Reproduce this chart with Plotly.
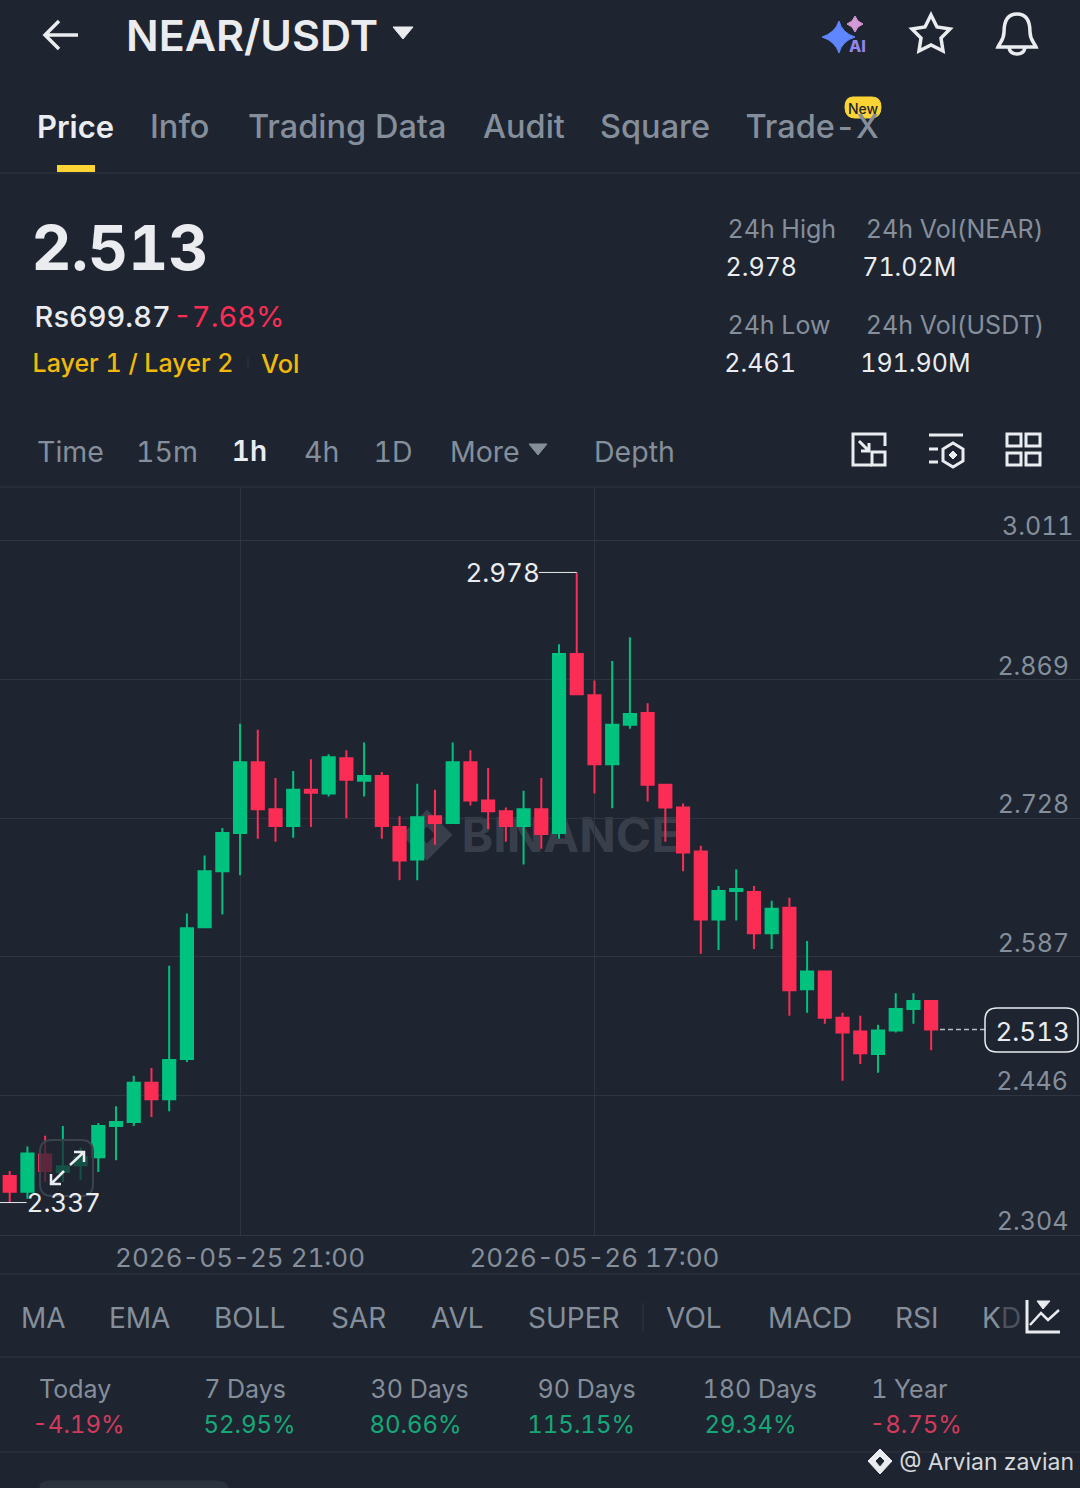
import pandas as pd
import plotly.graph_objects as go

# candles, hourly
start = "2026-05-25 08:00"
opens = [2.364, 2.348, 2.386, 2.368, 2.375, 2.383, 2.415, 2.419, 2.459, 2.442,
         2.483, 2.617, 2.674, 2.713, 2.785, 2.737, 2.720, 2.757, 2.753, 2.789,
         2.766, 2.771, 2.719, 2.686, 2.730, 2.723, 2.785, 2.746, 2.735, 2.720,
         2.737, 2.713, 2.895, 2.853, 2.783, 2.823, 2.835, 2.762, 2.739, 2.694,
         2.625, 2.654, 2.653, 2.611, 2.637, 2.554, 2.572, 2.525, 2.511, 2.488,
         2.512, 2.534, 2.542]
highs = [2.369, 2.394, 2.405, 2.415, 2.393, 2.418, 2.435, 2.466, 2.474, 2.578,
         2.631, 2.690, 2.718, 2.824, 2.818, 2.769, 2.776, 2.788, 2.793, 2.797,
         2.805, 2.775, 2.730, 2.763, 2.757, 2.805, 2.797, 2.779, 2.739, 2.756,
         2.769, 2.905, 2.978, 2.868, 2.888, 2.912, 2.845, 2.762, 2.743, 2.700,
         2.659, 2.676, 2.659, 2.644, 2.647, 2.603, 2.572, 2.530, 2.527, 2.518,
         2.550, 2.550, 2.542]
lows = [2.337, 2.341, 2.358, 2.358, 2.360, 2.368, 2.380, 2.415, 2.424, 2.430,
        2.480, 2.617, 2.630, 2.670, 2.707, 2.704, 2.708, 2.719, 2.750, 2.728,
        2.750, 2.707, 2.665, 2.665, 2.701, 2.722, 2.741, 2.717, 2.704, 2.681,
        2.697, 2.707, 2.853, 2.753, 2.738, 2.819, 2.745, 2.704, 2.674, 2.590,
        2.594, 2.624, 2.595, 2.595, 2.527, 2.530, 2.519, 2.461, 2.478, 2.469,
        2.510, 2.519, 2.492]
closes = [2.348, 2.387, 2.369, 2.374, 2.383, 2.415, 2.419, 2.459, 2.442, 2.482,
          2.616, 2.674, 2.713, 2.785, 2.737, 2.720, 2.757, 2.754, 2.790, 2.767,
          2.771, 2.720, 2.685, 2.729, 2.723, 2.785, 2.746, 2.735, 2.720, 2.737,
          2.712, 2.895, 2.854, 2.783, 2.823, 2.834, 2.762, 2.739, 2.693, 2.625,
          2.654, 2.656, 2.611, 2.636, 2.553, 2.572, 2.525, 2.510, 2.489, 2.512,
          2.534, 2.542, 2.513]
times = pd.date_range(start, periods=len(opens), freq="h")

price_ticks = [3.011, 2.869, 2.728, 2.587, 2.446, 2.304]
price_tick_labels = ["3.011", "2.869", "2.728", "2.587", "2.446", "2.304"]
date_ticks = ["2026-05-25 21:00", "2026-05-26 17:00"]
last_price = 2.513

tabs = ["Price", "Info", "Trading Data", "Audit", "Square", "Trade-X"]
tabs_x = [38, 151, 249, 484, 601, 750]
intervals = ["Time", "15m", "1h", "4h", "1D", "More", "Depth"]
intervals_x = [38, 141, 236, 305, 378, 451, 595]
indicators = ["MA", "EMA", "BOLL", "SAR", "AVL", "SUPER", "VOL", "MACD", "RSI"]
indicators_x = [22, 110, 215, 332, 432, 529, 667, 769, 896]
periods = ["Today", "7 Days", "30 Days", "90 Days", "180 Days", "1 Year"]
period_changes = ["-4.19%", "52.95%", "80.66%", "115.15%", "29.34%", "-8.75%"]
periods_x = [40, 206, 372, 539, 707, 875]

BG = "#1e2530"
GRID = "#2e3540"
LINE = "#303945"
GRAY = "#858e9b"
WHITE = "#eaecef"
GREEN = "#00c27f"
RED = "#fb2d55"
YELLOW = "#f0b90b"
FONT = "Inter"

fig = go.Figure()

# the x/y axes are just screen pixels, they sit under the chart so the watermark is behind the candles
fig.add_trace(go.Scatter(x=[571], y=[840], mode="text", text=["BINANCE"], hoverinfo="skip", showlegend=False,
                         textfont=dict(family=FONT, size=48, color="#383f4a", weight=700),
                         textposition="middle center", xaxis="x", yaxis="y"))

fig.add_trace(go.Candlestick(x=times, open=opens, high=highs, low=lows, close=closes,
                             increasing=dict(line=dict(color=GREEN, width=2), fillcolor=GREEN),
                             decreasing=dict(line=dict(color=RED, width=2), fillcolor=RED),
                             whiskerwidth=0, showlegend=False, xaxis="x2", yaxis="y2"))

shapes = []
annots = []


def txt(x, y, s, size=26, color=GRAY, anchor="left", weight=400):
    # left anchored annotations come out about 3px to the right of x
    if anchor == "left":
        x = x - 3
    annots.append(dict(xref="x", yref="y", x=x, y=y, text=s, showarrow=False, xanchor=anchor, yanchor="middle",
                       font=dict(family=FONT, size=size, color=color, weight=weight)))


def hline(y, x0=0, x1=1080, color=LINE, width=1):
    shapes.append(dict(type="line", xref="x", yref="y", x0=x0, x1=x1, y0=y, y1=y, line=dict(color=color, width=width)))


def path(d, color=WHITE, width=3, fill=None, layer="above"):
    shapes.append(dict(type="path", xref="x", yref="y", path=d, layer=layer, fillcolor=fill or "rgba(0,0,0,0)",
                       line=dict(color=color, width=width)))


# header
path("M78 35 L45 35 M59 21 L45 35 L59 49", width=3.5)
txt(127, 35, "NEAR/USDT", size=43, color=WHITE, weight=600)
path("M393 27 L413 27 L403 39 Z", fill=WHITE, width=1)
path("M839 21 Q842 33 855 37 Q842 41 839 53 Q835 41 822 37 Q835 33 839 21 Z", color="#5f86ff", fill="#5f86ff", width=1)
path("M855 16 Q857 22 863 24 Q857 26 855 32 Q853 26 847 24 Q853 22 855 16 Z", color="#d79ad8", fill="#d79ad8", width=1)
txt(857, 46, "AI", size=16, color="#8f86ee", anchor="center", weight=800)
path("M931 15 L937 27 L950 29 L941 38 L943 51 L931 45 L919 51 L921 38 L912 29 L925 27 Z", width=3.5)
path("M1017 14 C1006 14 1004 24 1004 32 C1004 40 1000 42 998 47 L1036 47 C1034 42 1030 40 1030 32 "
     "C1030 24 1028 14 1017 14 Z M1009 48 C1011 56 1023 56 1025 48", width=3.5)

# tabs
for name, x in zip(tabs, tabs_x):
    if name == "Price":
        txt(x, 126, name, size=31, color=WHITE, weight=600)
    else:
        txt(x, 126, name, size=32.5, color=GRAY, weight=500)
shapes.append(dict(type="rect", xref="x", yref="y", x0=57, x1=95, y0=165, y1=172, fillcolor="#fcd535", line_width=0))
path("M853 97 L872 97 Q881 97 881 107 Q881 118 871 118 L855 118 Q845 118 845 107 Q845 97 853 97 Z",
     color="#fcd535", fill="#fcd535", width=1)
txt(863, 108, "New", size=14, color="#1e2530", anchor="center", weight=500)
hline(173)

# price block
txt(38, 247, "2.513", size=62, color=WHITE, weight=700)
txt(38, 316, "Rs699.87", size=29, color=WHITE, weight=500)
txt(181, 316, "-7.68%", size=29, color=RED)
txt(37, 363, "Layer 1 / Layer 2", size=25, color=YELLOW, weight=500)
shapes.append(dict(type="line", xref="x", yref="y", x0=248, x1=248, y0=358, y1=368, line=dict(color=LINE, width=1)))
txt(262, 363, "Vol", size=25.5, color=YELLOW, weight=500)
txt(729, 229, "24h High", size=25)
txt(729, 267, "2.978", size=25, color=WHITE)
txt(868, 229, "24h Vol(NEAR)", size=25)
txt(868, 267, "71.02M", size=25, color=WHITE)
txt(729, 325, "24h Low", size=25)
txt(729, 363, "2.461", size=25, color=WHITE)
txt(868, 325, "24h Vol(USDT)", size=25)
txt(868, 363, "191.90M", size=25, color=WHITE)

# interval row
for name, x in zip(intervals, intervals_x):
    if name == "1h":
        txt(x, 451, name, size=28, color=WHITE, weight=600)
    else:
        txt(x, 451, name, size=28.5)
path("M529 444 L547 444 L538 455 Z", color=GRAY, fill=GRAY, width=1)
path("M866 434 L885 434 L885 446 M872 465 L853 465 L853 434 L866 434", width=3)
path("M859 441 L869 451 M869 443 L869 451 L861 451", width=3)
shapes.append(dict(type="rect", xref="x", yref="y", x0=872, x1=885, y0=452, y1=465, line=dict(color=WHITE, width=3)))
hline(435, 929, 963, color=WHITE, width=3)
hline(449, 929, 938, color=WHITE, width=3)
hline(462, 929, 938, color=WHITE, width=3)
path("M953 443 L963 449 L963 461 L953 467 L943 461 L943 449 Z", width=3)
path("M953 451 L957 455 L953 459 L949 455 Z", fill=WHITE, width=1)
for x0, y0 in [(1007, 434), (1026, 434), (1007, 453), (1026, 453)]:
    shapes.append(dict(type="rect", xref="x", yref="y", x0=x0, x1=x0 + 14, y0=y0, y1=y0 + 12,
                       line=dict(color=WHITE, width=3)))
hline(487)

# price labels sit on top of their gridlines
for val, lab in zip(price_ticks, price_tick_labels):
    annots.append(dict(xref="paper", yref="y2", x=1069 / 1080, y=val, text=lab, showarrow=False, xanchor="right",
                       yanchor="bottom", yshift=-3, font=dict(family=FONT, size=25, color=GRAY)))

# high / low markers
annots.append(dict(xref="x2", yref="y2", x=times[32], y=max(highs), text="2.978", xanchor="right", yanchor="middle",
                   showarrow=True, arrowhead=0, arrowwidth=1, arrowcolor=WHITE, ax=-38, ay=0, standoff=0,
                   font=dict(family=FONT, size=26, color=WHITE)))
annots.append(dict(xref="x2", yref="y2", x=times[0], y=min(lows), text="2.337", xanchor="left", yanchor="middle",
                   showarrow=True, arrowhead=0, arrowwidth=1, arrowcolor=WHITE, ax=17, ay=0, standoff=0,
                   font=dict(family=FONT, size=26, color=WHITE)))
shapes.append(dict(type="line", xref="x", yref="y2", x0=0, x1=10, y0=min(lows), y1=min(lows),
                   line=dict(color=WHITE, width=1)))

# last price
shapes.append(dict(type="line", xref="x", yref="y2", x0=940, x1=985, y0=last_price, y1=last_price,
                   line=dict(color="#b7bdc6", width=1.5, dash="5px,3px")))
path("M997 1008 L1066 1008 Q1078 1008 1078 1020 L1078 1040 Q1078 1052 1066 1052 L997 1052 Q985 1052 985 1040 "
     "L985 1020 Q985 1008 997 1008 Z", color=WHITE, width=1.5, fill=BG)
txt(1032, 1031, "2.513", size=26, color=WHITE, anchor="center")

# expand button
path("M52 1140 L81 1140 Q93 1140 93 1152 L93 1184 Q93 1196 81 1196 L52 1196 Q40 1196 40 1184 L40 1152 Q40 1140 52 1140 Z",
     color="#3a424e", width=2, fill="rgba(30,37,48,0.72)")
path("M70 1165 L84 1152 M74 1152 L84 1152 L84 1162", width=2.5)
path("M64 1171 L51 1184 M51 1174 L51 1184 L61 1184", width=2.5)

# watermark diamond behind the candles
path("M427 810 L452 835 L427 860 L402 835 Z M427 826 L436 835 L427 844 L418 835 Z", color="#383f4a", width=1,
     fill="#383f4a", layer="below")

# indicators row
hline(1274)
for name, x in zip(indicators, indicators_x):
    txt(x, 1318, name, size=28)
txt(983, 1318, "K", size=28)
txt(1002, 1318, "D", size=28, color="#4b525e")
shapes.append(dict(type="line", xref="x", yref="y", x0=643, x1=643, y0=1303, y1=1331, line=dict(color=LINE, width=1)))
path("M1027 1300 L1027 1332 L1060 1332", width=3)
path("M1030 1325 L1041 1313 L1048 1320 L1059 1310", width=2.5)
path("M1037 1301 L1050 1301 L1043 1309 Z", fill=WHITE, width=1)
hline(1357)

# performance row
for name, chg, x in zip(periods, period_changes, periods_x):
    txt(x, 1389, name, size=25)
    txt(x, 1424, chg, size=24, color="#d23a5c" if chg.startswith("-") else "#17a878")
hline(1452)
path("M880 1449 L892 1461 L880 1474 L868 1461 Z M880 1456 L885 1461 L880 1467 L875 1461 Z", color=WHITE, width=1, fill=WHITE)
txt(900, 1462, "@ Arvian zavian", size=23, color="#d5d8dc")
path("M40 1488 L40 1486 Q40 1481 52 1481 L214 1481 Q228 1481 228 1488 Z", color="#2a323d", width=1, fill="#2a323d")

fig.update_layout(
    width=1080, height=1488, autosize=False,
    margin=dict(l=0, r=0, t=0, b=0, pad=0),
    paper_bgcolor=BG, plot_bgcolor="rgba(0,0,0,0)",
    showlegend=False, boxgap=0.02,
    shapes=shapes, annotations=annots,
    xaxis=dict(domain=[0, 1], range=[0, 1080], visible=False, fixedrange=True),
    yaxis=dict(domain=[0, 1], range=[1488, 0], visible=False, fixedrange=True),
    xaxis2=dict(domain=[0, 1], anchor="y2", type="date", range=["2026-05-25 07:27:10", "2026-05-27 20:24:00"],
                tickvals=date_ticks, ticktext=date_ticks, showgrid=True, gridcolor=GRID, gridwidth=1, zeroline=False,
                showline=True, linecolor=GRID, ticks="", ticklabelstandoff=0, rangeslider=dict(visible=False),
                tickfont=dict(family=FONT, size=26, color=GRAY), tickangle=0),
    yaxis2=dict(domain=[1 - 1235 / 1488, 1 - 488 / 1488], anchor="x2", range=[2.304, 3.0639], tickvals=price_ticks,
                showticklabels=False, showgrid=True, gridcolor=GRID, gridwidth=1, zeroline=False, ticks=""),
)

# page has a default 8px body margin, drop it so the figure fills the window. tnum: digits equal width as in the app
page_js = ("document.body.style.margin='0';document.body.style.background='#1e2530';"
           "var st=document.createElement('style');st.textContent='svg text{font-feature-settings:\"tnum\"}';"
           "document.head.appendChild(st);")
fig.write_html("out.html", post_script=page_js, config={"displayModeBar": False})
